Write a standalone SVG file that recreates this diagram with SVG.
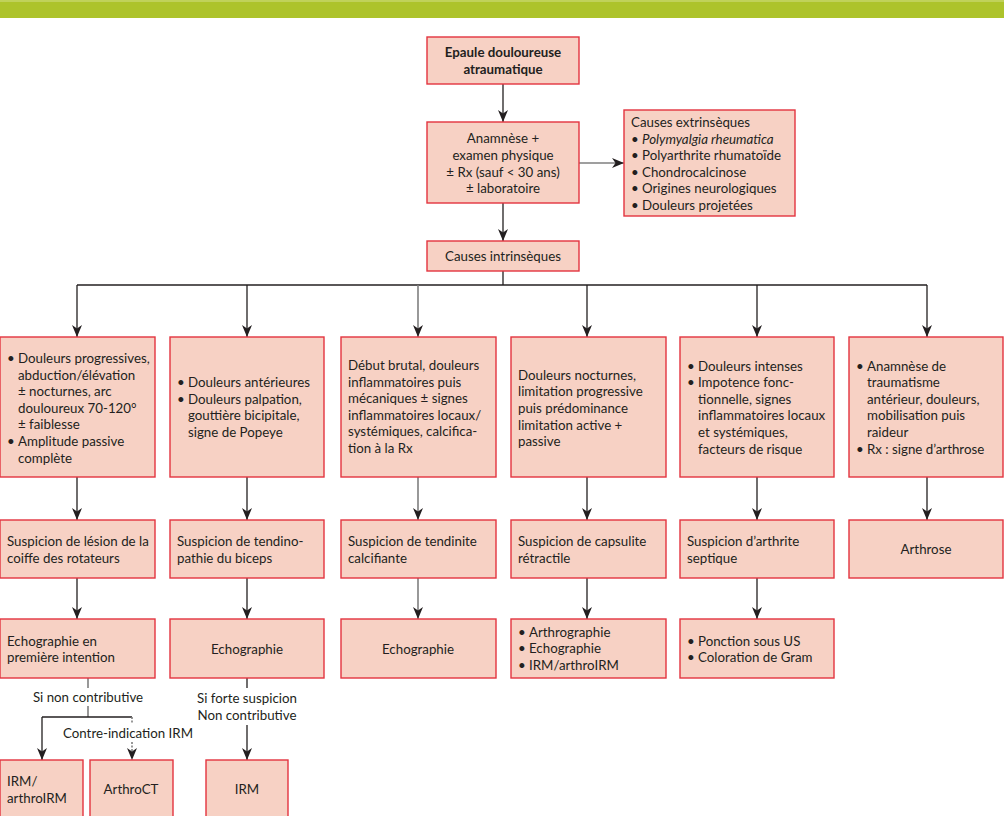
<svg xmlns="http://www.w3.org/2000/svg" width="1004" height="816" viewBox="0 0 1004 816">
<defs>
<style>
.box{fill:#f7d1c4;stroke:#e3343f;stroke-width:1.4}
text{font-family:Lato,"Open Sans","Liberation Sans",sans-serif;font-size:13.3px;fill:#231f20}
.c{text-anchor:middle}
.b{font-weight:bold}
.ln{fill:none;stroke:#231f20;stroke-width:1.3}
.lg{fill:none;stroke:#7f7f7f;stroke-width:1.6}
</style>
<marker id="ah" viewBox="0 0 12 10" refX="12" refY="5" markerWidth="12" markerHeight="10" markerUnits="userSpaceOnUse" orient="auto">
<path d="M0,0 L12,5 L0,10 L3.5,5 Z" fill="#231f20"/>
</marker>
</defs>
<rect x="0" y="0" width="1004" height="816" fill="#ffffff"/>
<rect x="0" y="0" width="1004" height="18" fill="#adc32b"/>
<line x1="0" y1="1" x2="1004" y2="1" stroke="#d3e08a" stroke-width="1"/>

<g id="connectors">
<line class="ln" x1="503" y1="84" x2="503" y2="122" marker-end="url(#ah)"/>
<line class="lg" x1="579" y1="163" x2="624" y2="163" marker-end="url(#ah)"/>
<line class="ln" x1="503" y1="203" x2="503" y2="241" marker-end="url(#ah)"/>
<line class="ln" x1="503" y1="271" x2="503" y2="285"/>
<line class="ln" x1="77" y1="285" x2="927" y2="285"/>
<line class="ln" x1="77" y1="285" x2="77" y2="337" marker-end="url(#ah)"/>
<line class="ln" x1="247" y1="285" x2="247" y2="337" marker-end="url(#ah)"/>
<line class="lg" x1="418" y1="285" x2="418" y2="337" marker-end="url(#ah)"/>
<line class="ln" x1="587" y1="285" x2="587" y2="337" marker-end="url(#ah)"/>
<line class="ln" x1="757" y1="285" x2="757" y2="337" marker-end="url(#ah)"/>
<line class="ln" x1="927" y1="285" x2="927" y2="337" marker-end="url(#ah)"/>
<line class="ln" x1="77" y1="477" x2="77" y2="520" marker-end="url(#ah)"/>
<line class="ln" x1="247" y1="477" x2="247" y2="520" marker-end="url(#ah)"/>
<line class="lg" x1="418" y1="477" x2="418" y2="520" marker-end="url(#ah)"/>
<line class="ln" x1="587" y1="477" x2="587" y2="520" marker-end="url(#ah)"/>
<line class="ln" x1="757" y1="477" x2="757" y2="520" marker-end="url(#ah)"/>
<line class="ln" x1="927" y1="477" x2="927" y2="520" marker-end="url(#ah)"/>
<line class="ln" x1="77" y1="578" x2="77" y2="619" marker-end="url(#ah)"/>
<line class="ln" x1="247" y1="578" x2="247" y2="619" marker-end="url(#ah)"/>
<line class="lg" x1="418" y1="578" x2="418" y2="619" marker-end="url(#ah)"/>
<line class="ln" x1="587" y1="578" x2="587" y2="619" marker-end="url(#ah)"/>
<line class="ln" x1="757" y1="578" x2="757" y2="619" marker-end="url(#ah)"/>
<line class="lg" x1="88" y1="678" x2="88" y2="688"/>
<line class="lg" x1="88" y1="706" x2="88" y2="717"/>
<line class="ln" x1="42" y1="717" x2="132" y2="717"/>
<line class="ln" x1="42" y1="717" x2="42" y2="760" marker-end="url(#ah)"/>
<line class="lg" x1="132" y1="717" x2="132" y2="724" stroke-dasharray="2,1.5"/>
<line class="lg" x1="132" y1="742" x2="132" y2="760" stroke-dasharray="2,1.5" marker-end="url(#ah)"/>
<line class="ln" x1="247" y1="678" x2="247" y2="688"/>
<line class="ln" x1="247" y1="725" x2="247" y2="760" marker-end="url(#ah)"/>
<text class="c" x="88" y="702">Si non contributive</text>
<text class="c" x="128" y="738">Contre-indication IRM</text>
<text class="c" x="247" y="703">Si forte suspicion</text>
<text class="c" x="247" y="720">Non contributive</text>
</g>

<g id="n-title">
<rect class="box" x="427" y="37" width="152" height="47"/>
<text class="c b" x="503" y="57">Epaule douloureuse</text>
<text class="c b" x="503" y="74">atraumatique</text>
</g>
<g id="n-anamnese">
<rect class="box" x="427" y="122" width="152" height="81"/>
<text class="c" x="503" y="143">Anamnèse +</text>
<text class="c" x="503" y="160">examen physique</text>
<text class="c" x="503" y="177">± Rx (sauf &lt; 30 ans)</text>
<text class="c" x="503" y="193">± laboratoire</text>
</g>
<g id="n-extrinseques">
<rect class="box" x="624" y="110" width="171" height="106"/>
<text x="631" y="127">Causes extrinsèques</text>
<text x="631" y="144">•</text><text x="642" y="144" font-style="italic">Polymyalgia rheumatica</text>
<text x="631" y="160">•</text><text x="642" y="160">Polyarthrite rhumatoïde</text>
<text x="631" y="177">•</text><text x="642" y="177">Chondrocalcinose</text>
<text x="631" y="193">•</text><text x="642" y="193">Origines neurologiques</text>
<text x="631" y="210">•</text><text x="642" y="210">Douleurs projetées</text>
</g>
<g id="n-intrinseques">
<rect class="box" x="427" y="241" width="152" height="30"/>
<text class="c" x="503" y="261">Causes intrinsèques</text>
</g>

<g id="n-c1">
<rect class="box" x="0" y="337" width="155" height="140"/>
<text x="7" y="363">•</text><text x="18" y="363">Douleurs progressives,</text>
<text x="18" y="380">abduction/élévation</text>
<text x="18" y="396">± nocturnes, arc</text>
<text x="18" y="413">douloureux 70-120°</text>
<text x="18" y="429">± faiblesse</text>
<text x="7" y="446">•</text><text x="18" y="446">Amplitude passive</text>
<text x="18" y="463">complète</text>
</g>
<g id="n-c2">
<rect class="box" x="170" y="337" width="154" height="140"/>
<text x="177" y="387">•</text><text x="188" y="387">Douleurs antérieures</text>
<text x="177" y="404">•</text><text x="188" y="404">Douleurs palpation,</text>
<text x="188" y="420">gouttière bicipitale,</text>
<text x="188" y="437">signe de Popeye</text>
</g>
<g id="n-c3">
<rect class="box" x="341" y="337" width="155" height="140"/>
<text x="348" y="370">Début brutal, douleurs</text>
<text x="348" y="387">inflammatoires puis</text>
<text x="348" y="403">mécaniques ± signes</text>
<text x="348" y="420">inflammatoires locaux/</text>
<text x="348" y="436">systémiques, calcifica-</text>
<text x="348" y="453">tion à la Rx</text>
</g>
<g id="n-c4">
<rect class="box" x="511" y="337" width="155" height="140"/>
<text x="518" y="380">Douleurs nocturnes,</text>
<text x="518" y="396">limitation progressive</text>
<text x="518" y="413">puis prédominance</text>
<text x="518" y="430">limitation active +</text>
<text x="518" y="446">passive</text>
</g>
<g id="n-c5">
<rect class="box" x="680" y="337" width="154" height="140"/>
<text x="687" y="371">•</text><text x="698" y="371">Douleurs intenses</text>
<text x="687" y="387">•</text><text x="698" y="387">Impotence fonc-</text>
<text x="698" y="404">tionnelle, signes</text>
<text x="698" y="420">inflammatoires locaux</text>
<text x="698" y="437">et systémiques,</text>
<text x="698" y="454">facteurs de risque</text>
</g>
<g id="n-c6">
<rect class="box" x="849" y="337" width="154" height="140"/>
<text x="856" y="371">•</text><text x="867" y="371">Anamnèse de</text>
<text x="867" y="387">traumatisme</text>
<text x="867" y="404">antérieur, douleurs,</text>
<text x="867" y="420">mobilisation puis</text>
<text x="867" y="437">raideur</text>
<text x="856" y="454">•</text><text x="867" y="454">Rx : signe d’arthrose</text>
</g>

<g id="n-s1">
<rect class="box" x="0" y="520" width="155" height="58"/>
<text x="7" y="546">Suspicion de lésion de la</text>
<text x="7" y="563">coiffe des rotateurs</text>
</g>
<g id="n-s2">
<rect class="box" x="170" y="520" width="154" height="58"/>
<text x="177" y="546">Suspicion de tendino-</text>
<text x="177" y="563">pathie du biceps</text>
</g>
<g id="n-s3">
<rect class="box" x="341" y="520" width="155" height="58"/>
<text x="348" y="546">Suspicion de tendinite</text>
<text x="348" y="563">calcifiante</text>
</g>
<g id="n-s4">
<rect class="box" x="511" y="520" width="155" height="58"/>
<text x="518" y="546">Suspicion de capsulite</text>
<text x="518" y="563">rétractile</text>
</g>
<g id="n-s5">
<rect class="box" x="680" y="520" width="154" height="58"/>
<text x="687" y="546">Suspicion d’arthrite</text>
<text x="687" y="563">septique</text>
</g>
<g id="n-s6">
<rect class="box" x="849" y="520" width="154" height="58"/>
<text class="c" x="926" y="554">Arthrose</text>
</g>

<g id="n-e1">
<rect class="box" x="0" y="619" width="155" height="59"/>
<text x="7" y="646">Echographie en</text>
<text x="7" y="662">première intention</text>
</g>
<g id="n-e2">
<rect class="box" x="170" y="619" width="154" height="59"/>
<text class="c" x="247" y="654">Echographie</text>
</g>
<g id="n-e3">
<rect class="box" x="341" y="619" width="155" height="59"/>
<text class="c" x="418" y="654">Echographie</text>
</g>
<g id="n-e4">
<rect class="box" x="511" y="619" width="155" height="59"/>
<text x="518" y="637">•</text><text x="529" y="637">Arthrographie</text>
<text x="518" y="653">•</text><text x="529" y="653">Echographie</text>
<text x="518" y="670">•</text><text x="529" y="670">IRM/arthroIRM</text>
</g>
<g id="n-e5">
<rect class="box" x="680" y="619" width="154" height="59"/>
<text x="687" y="646">•</text><text x="698" y="646">Ponction sous US</text>
<text x="687" y="662">•</text><text x="698" y="662">Coloration de Gram</text>
</g>

<g id="n-irm1">
<rect class="box" x="0" y="760" width="83" height="60"/>
<text x="7" y="786">IRM/</text>
<text x="7" y="803">arthroIRM</text>
</g>
<g id="n-arthroct">
<rect class="box" x="90" y="760" width="83" height="60"/>
<text class="c" x="131" y="794">ArthroCT</text>
</g>
<g id="n-irm2">
<rect class="box" x="206" y="760" width="82" height="60"/>
<text class="c" x="247" y="794">IRM</text>
</g>
</svg>
